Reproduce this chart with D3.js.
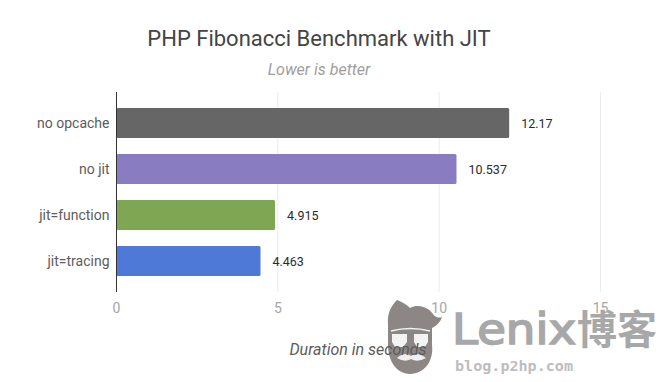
<!DOCTYPE html>
<html>
<head>
<meta charset="utf-8">
<script src="https://cdn.jsdelivr.net/npm/d3@7"></script>
<style>
    html, body { margin: 0; padding: 0; background: #fff; }
    svg { display: block; }
    text { font-family: Roboto, sans-serif; }
</style>
</head>
<body>
<div id="chart"></div>
<script>
const categories = ["no opcache", "no jit", "jit=function", "jit=tracing"];
const durations = [12.17, 10.537, 4.915, 4.463];
const barColors = ["#666666", "#8a7cc0", "#7fa653", "#4f79d6"];
const xTicks = [0, 5, 10, 15];

const width = 672, height = 382;

const svg = d3.select("#chart").append("svg")
    .attr("width", width)
    .attr("height", height);

const x = d3.scaleLinear().domain([0, 15]).range([116.5, 600.5]);
const y = d3.scaleBand().domain(categories).range([100, 284]).paddingInner(16 / 46).paddingOuter(8 / 46);

// Gridlines
svg.append("g").selectAll("line")
    .data(xTicks.slice(1))
    .enter().append("line")
    .attr("x1", d => x(d)).attr("x2", d => x(d))
    .attr("y1", 92).attr("y2", 292)
    .attr("stroke", "#ebebeb");

// Bars
svg.append("g").selectAll("rect")
    .data(durations)
    .enter().append("rect")
    .attr("x", x(0))
    .attr("y", (d, i) => y(categories[i]))
    .attr("width", d => x(d) - x(0))
    .attr("height", y.bandwidth())
    .attr("rx", 1.5)
    .attr("fill", (d, i) => barColors[i]);

// Value labels
svg.append("g").selectAll("text")
    .data(durations)
    .enter().append("text")
    .attr("x", d => x(d) + 12)
    .attr("y", (d, i) => y(categories[i]) + y.bandwidth() / 2 + 4.5)
    .attr("font-size", 12.5)
    .attr("fill", "#2a2a2a")
    .text(d => d);

// Baseline
svg.append("line")
    .attr("x1", x(0)).attr("x2", x(0))
    .attr("y1", 92).attr("y2", 292)
    .attr("stroke", "#333");

// Category labels
svg.append("g").selectAll("text")
    .data(categories)
    .enter().append("text")
    .attr("x", 109.5)
    .attr("y", d => y(d) + y.bandwidth() / 2 + 5)
    .attr("text-anchor", "end")
    .attr("font-size", 14)
    .attr("fill", "#5c5c5c")
    .text(d => d);

// Watermark
const mark = svg.append("g");
mark.append("path")
    .attr("d", "M397 300 C403 302 407 305 410 308 C419 303 429 308 433 314 C436 318 439 318 442 317 C440 323 436 326 432 328 L432 345 C434 360 425 374 410 374 C396 374 388 360 388 345 L388 325 C387 312 392 305 397 300 Z")
    .attr("fill", "#8c8785");
mark.append("path")
    .attr("d", "M392 334 L407 334 L407 342 L403 347 L395 347 L392 342 Z M414 334 L428 334 L428 342 L425 347 L417 347 L414 342 Z")
    .attr("fill", "#f4f3f3");
mark.append("path")
    .attr("d", "M391 331 Q410 326 430 331")
    .attr("fill", "none")
    .attr("stroke", "#f4f3f3")
    .attr("stroke-width", 1.5);
mark.append("path")
    .attr("d", "M397 358 Q405 351 411 356 Q417 351 426 358 Q417 363 411 359 Q405 363 397 358 Z")
    .attr("fill", "#f0eeee");
mark.append("text")
    .attr("x", 452).attr("y", 344)
    .attr("font-size", 42)
    .attr("textLength", 124)
    .attr("lengthAdjust", "spacingAndGlyphs")
    .attr("fill", "#a8a8a8")
    .attr("stroke", "#a8a8a8")
    .attr("stroke-width", 1.6)
    .style("font-family", "'DejaVu Sans', sans-serif")
    .text("Lenix");
mark.append("text")
    .attr("x", 577).attr("y", 344)
    .attr("font-size", 40)
    .attr("font-weight", "bold")
    .attr("textLength", 80)
    .attr("lengthAdjust", "spacingAndGlyphs")
    .attr("fill", "#a8a8a8")
    .style("font-family", "'Noto Sans CJK SC', sans-serif")
    .text("博客");
mark.append("text")
    .attr("x", 455).attr("y", 371)
    .attr("font-weight", "bold")
    .attr("font-size", 14)
    .attr("textLength", 118)
    .attr("lengthAdjust", "spacingAndGlyphs")
    .attr("fill", "#bdbdbd")
    .style("font-family", "'DejaVu Sans Mono', monospace")
    .text("blog.p2hp.com");

// X tick labels
svg.append("g").selectAll("text")
    .data(xTicks)
    .enter().append("text")
    .attr("x", d => x(d))
    .attr("y", 313)
    .attr("text-anchor", "middle")
    .attr("font-size", 14)
    .attr("fill", "#a6a6a6")
    .text(d => d);

// Titles
svg.append("text")
    .attr("x", 319).attr("y", 46)
    .attr("text-anchor", "middle")
    .attr("font-size", 22)
    .attr("fill", "#444")
    .text("PHP Fibonacci Benchmark with JIT");

svg.append("text")
    .attr("x", 319).attr("y", 75)
    .attr("text-anchor", "middle")
    .attr("font-size", 16)
    .attr("font-style", "italic")
    .attr("fill", "#9e9e9e")
    .text("Lower is better");

svg.append("text")
    .attr("x", 358).attr("y", 355)
    .attr("text-anchor", "middle")
    .attr("font-size", 16)
    .attr("font-style", "italic")
    .attr("fill", "#5c5c5c")
    .text("Duration in seconds");
</script>
</body>
</html>
